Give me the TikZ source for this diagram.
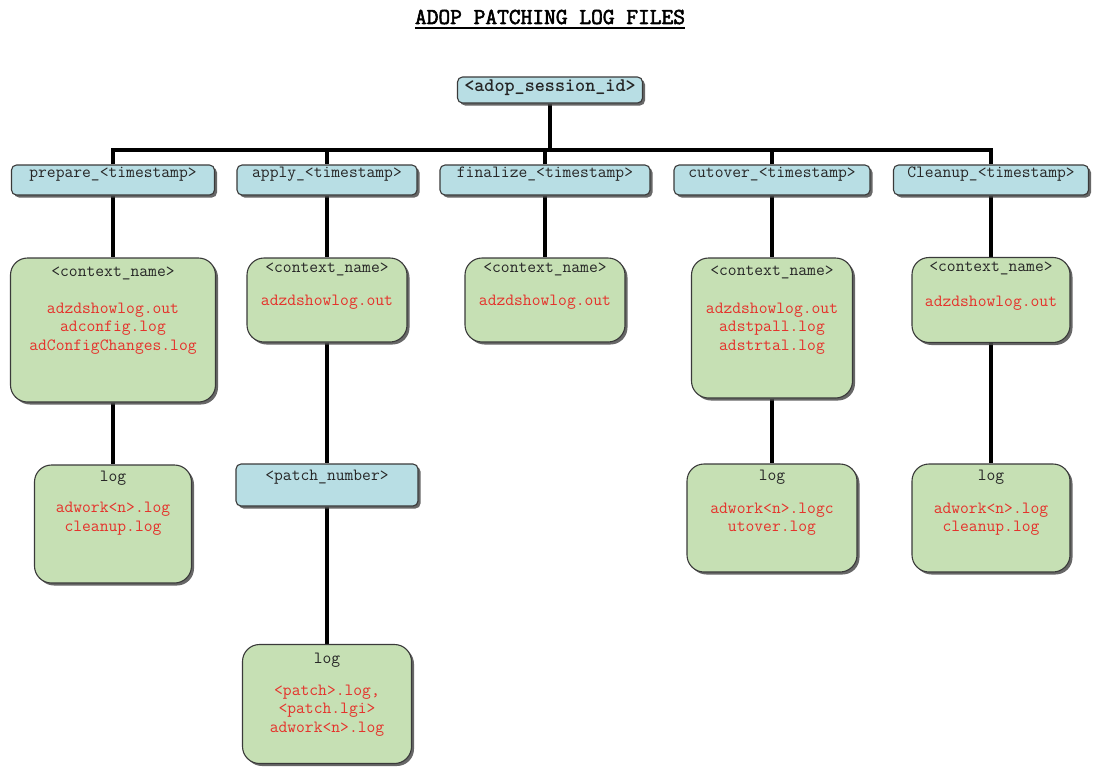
\documentclass[tikz,border=0pt]{standalone}
\usepackage{fontspec}
\newfontfamily\titlefont{Latin Modern Mono}[FakeBold=2.5]
\usetikzlibrary{shadows,backgrounds}
\definecolor{boxblue}{HTML}{B8DEE4}
\definecolor{boxgreen}{HTML}{C6E0B4}
\definecolor{logred}{HTML}{E5322B}
\definecolor{edgegray}{HTML}{3A3A3A}
\tikzset{
  base/.style={draw=edgegray, line width=1.1pt, inner sep=0pt,
    drop shadow={shadow xshift=2.5pt, shadow yshift=-2.5pt, fill=black!70, opacity=0.85}},
  bluebox/.style={base, fill=boxblue, rounded corners=5pt},
  greenbox/.style={base, fill=boxgreen, rounded corners=17pt},
  hdr/.style={font=\ttfamily\fontsize{17.1}{20}\selectfont, text=black!85, inner sep=0pt},
  files/.style={font=\ttfamily\fontsize{17.1}{18.5}\selectfont, text=logred, align=center, inner sep=0pt},
  link/.style={line width=3.5pt, black},
}
\begin{document}
\begin{tikzpicture}[x=1pt,y=-1pt]
\useasboundingbox (0,0) rectangle (1097,779);
% title
\node[font=\titlefont\fontsize{22.8}{26}\selectfont, inner sep=0pt] (title) at (550,17) {ADOP PATCHING LOG FILES};
\draw[line width=2pt] ([yshift=-3.5pt]title.south west) -- ([yshift=-3.5pt]title.south east);
% root
\node[bluebox, minimum width=185pt, minimum height=26pt] (root) at (550,90) {};
\node[hdr, font=\ttfamily\bfseries\fontsize{19.2}{22}\selectfont] (root-t) at (550,88) {<adop\_session\_id>};
% level 1
\node[bluebox, minimum width=203pt, minimum height=30pt] (prep) at (113,180) {};
\node[hdr] (prep-t) at (113,174) {prepare\_<timestamp>};
\node[bluebox, minimum width=180pt, minimum height=30pt] (apply) at (327,180) {};
\node[hdr] (apply-t) at (327,174) {apply\_<timestamp>};
\node[bluebox, minimum width=210pt, minimum height=30pt] (fin) at (545,180) {};
\node[hdr] (fin-t) at (545,174) {finalize\_<timestamp>};
\node[bluebox, minimum width=196pt, minimum height=30pt] (cut) at (772,180) {};
\node[hdr] (cut-t) at (772,174) {cutover\_<timestamp>};
\node[bluebox, minimum width=195pt, minimum height=30pt] (clean) at (991,180) {};
\node[hdr] (clean-t) at (991,174) {Cleanup\_<timestamp>};
% context boxes
\node[greenbox, minimum width=205pt, minimum height=144pt] (prepctx) at (113,330) {};
\node[hdr] (prepctx-h) at (113,273) {<context\_name>};
\node[files] (prepctx-f) at (113,328.5) {adzdshowlog.out\\adconfig.log\\adConfigChanges.log};
\node[greenbox, minimum width=160pt, minimum height=84pt] (applyctx) at (327,300) {};
\node[hdr] (applyctx-h) at (327,269) {<context\_name>};
\node[files] (applyctx-f) at (327,302) {adzdshowlog.out};
\node[greenbox, minimum width=160pt, minimum height=84pt] (finctx) at (545,300) {};
\node[hdr] (finctx-h) at (545,269) {<context\_name>};
\node[files] (finctx-f) at (545,302) {adzdshowlog.out};
\node[greenbox, minimum width=161pt, minimum height=140pt] (cutctx) at (772,328) {};
\node[hdr] (cutctx-h) at (772,272) {<context\_name>};
\node[files] (cutctx-f) at (772,328.5) {adzdshowlog.out\\adstpall.log\\adstrtal.log};
\node[greenbox, minimum width=158pt, minimum height=85pt] (cleanctx) at (991,300) {};
\node[hdr] (cleanctx-h) at (991,268) {<context\_name>};
\node[files] (cleanctx-f) at (991,303) {adzdshowlog.out};
% level 3
\node[greenbox, minimum width=157pt, minimum height=118pt] (preplog) at (113,524) {};
\node[hdr] (preplog-h) at (113,478) {log};
\node[files] (preplog-f) at (113,518.5) {adwork<n>.log\\cleanup.log};
\node[bluebox, minimum width=182pt, minimum height=42pt] (patch) at (327,485) {};
\node[hdr] (patch-t) at (327,477) {<patch\_number>};
\node[greenbox, minimum width=169pt, minimum height=119pt] (applylog) at (327,704) {};
\node[hdr] (applylog-h) at (327,660) {log};
\node[files] (applylog-f) at (327,710.5) {<patch>.log,\\<patch.lgi>\\adwork<n>.log};
\node[greenbox, minimum width=170pt, minimum height=108pt] (cutlog) at (772,518) {};
\node[hdr] (cutlog-h) at (772,477) {log};
\node[files] (cutlog-f) at (772,519) {adwork<n>.logc\\utover.log};
\node[greenbox, minimum width=158pt, minimum height=108pt] (cleanlog) at (991,518) {};
\node[hdr] (cleanlog-h) at (991,477) {log};
\node[files] (cleanlog-f) at (991,519) {adwork<n>.log\\cleanup.log};
% connectors
\coordinate (barL) at (113,150);
\coordinate (barR) at (991,150);
\begin{pgfonlayer}{background}
\draw[link, line cap=rect] (barL) -- (barR);
\draw[link] (root) -- (root |- barL);
\draw[link] (prep) -- (prep |- barL);
\draw[link] (apply) -- (apply |- barL);
\draw[link] (fin) -- (fin |- barL);
\draw[link] (cut) -- (cut |- barL);
\draw[link] (clean) -- (clean |- barL);
\draw[link] (prep) -- (prepctx);
\draw[link] (apply) -- (applyctx);
\draw[link] (fin) -- (finctx);
\draw[link] (cut) -- (cutctx);
\draw[link] (clean) -- (cleanctx);
\draw[link] (prepctx) -- (preplog);
\draw[link] (applyctx) -- (patch);
\draw[link] (patch) -- (applylog);
\draw[link] (cutctx) -- (cutlog);
\draw[link] (cleanctx) -- (cleanlog);
\end{pgfonlayer}
\end{tikzpicture}
\end{document}
